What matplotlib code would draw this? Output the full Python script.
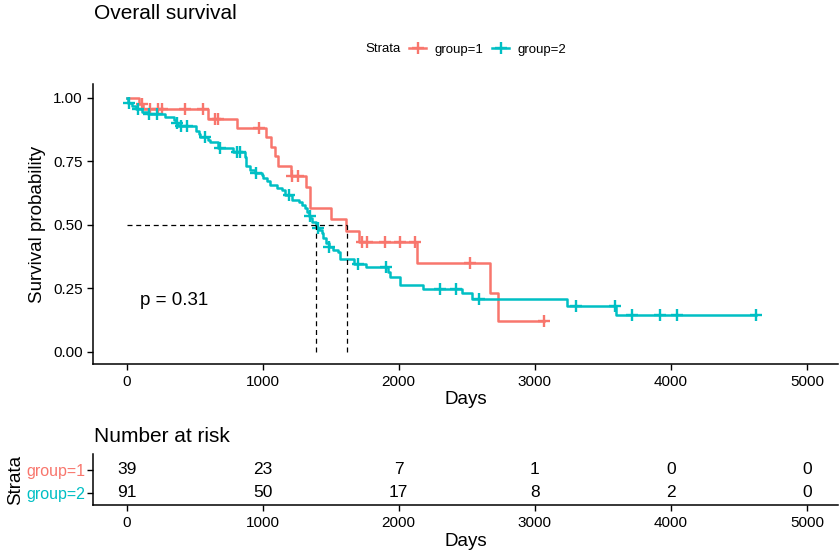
import numpy as np
import matplotlib
matplotlib.use("Agg")
import matplotlib.pyplot as plt
from matplotlib.lines import Line2D

plt.rcParams['font.family'] = ['Liberation Sans', 'DejaVu Sans']

# step times (days) and survival after each step
times1 = [0, 91, 121, 601, 810, 1023, 1062, 1093, 1115, 1209, 1319, 1349, 1501,
          1613, 1709, 2138, 2668, 2729]
surv1 = [1.0, 0.975, 0.954, 0.917, 0.882, 0.846, 0.807, 0.770, 0.733, 0.692,
         0.650, 0.565, 0.521, 0.476, 0.432, 0.348, 0.232, 0.120]
cens1 = [111, 172, 233, 258, 429, 564, 650, 674, 976, 1215, 1263, 1731, 1770,
         1902, 2010, 2121, 2525, 3069]

times2 = [0, 10, 40, 70, 110, 160, 282, 345, 360, 380, 510, 535, 540, 600, 615,
          675, 785, 870, 875, 880, 910, 945, 995, 1005, 1030, 1055, 1105, 1140,
          1165, 1215, 1265, 1290, 1315, 1325, 1340, 1350, 1360, 1391, 1415, 1435,
          1445, 1465, 1485, 1520, 1555, 1570, 1670, 1760, 1925, 1935, 2010, 2177,
          2464, 2537, 3236, 3600]
surv2 = [1.0, 0.978, 0.967, 0.956, 0.945, 0.934, 0.923, 0.912, 0.901, 0.890,
         0.868, 0.857, 0.846, 0.835, 0.824, 0.802, 0.787, 0.765, 0.743, 0.730,
         0.716, 0.705, 0.694, 0.683, 0.672, 0.656, 0.645, 0.635, 0.617, 0.598,
         0.588, 0.577, 0.565, 0.551, 0.535, 0.525, 0.512, 0.488, 0.479, 0.466,
         0.446, 0.427, 0.414, 0.400, 0.394, 0.364, 0.345, 0.332, 0.315, 0.295,
         0.263, 0.246, 0.230, 0.206, 0.180, 0.144]
cens2 = [20, 86, 165, 221, 368, 400, 441, 576, 690, 810, 834, 949, 1196, 1348,
         1410, 1490, 1704, 1907, 2304, 2422, 2593, 3302, 3591, 3718, 3922, 4049,
         4628]

medians = [1391, 1622]
risk_times = [0, 1000, 2000, 3000, 4000, 5000]
risk1 = [39, 23, 7, 1, 0, 0]
risk2 = [91, 50, 17, 8, 2, 0]
groups = ['group=1', 'group=2']
colors = ['#F8766D', '#00BFC4']

fig = plt.figure(figsize=[8.4, 5.55], dpi=100)
ax = fig.add_axes([0.111, 0.3436, 0.887, 0.505])

for times, surv, cens, col in [(times1, surv1, cens1, colors[0]),
                               (times2, surv2, cens2, colors[1])]:
    x = list(times) + [max(cens)]
    y = list(surv) + [surv[-1]]
    ax.step(x, y, where='post', color=col, lw=1.8)
    idx = np.searchsorted(times, cens, side='right') - 1
    ax.plot(cens, np.array(surv)[idx], '+', color=col, ms=9, mew=1.7)

# median lines
ax.plot([0, max(medians)], [0.5, 0.5], '--', color='black', lw=0.9, dashes=(4, 3))
for m in medians:
    ax.plot([m, m], [0, 0.5], '--', color='black', lw=0.9, dashes=(4, 3))

ax.text(100, 0.2, 'p = 0.31', fontsize=13.5, va='center')
ax.set_xlim(-245, 5231)
ax.set_ylim(-0.05, 1.054)
ax.set_xticks(risk_times)
ax.set_yticks([0, 0.25, 0.5, 0.75, 1.0])
ax.set_yticklabels(['0.00', '0.25', '0.50', '0.75', '1.00'])
ax.set_xlabel('Days', fontsize=13.5, labelpad=2)
ax.set_ylabel('Survival probability', fontsize=13.5, labelpad=5)
for s in ['top', 'right']:
    ax.spines[s].set_visible(False)
for s in ['left', 'bottom']:
    ax.spines[s].set_linewidth(1.1)
ax.tick_params(labelsize=11, length=4, width=1, colors='black')

fig.text(0.112, 0.976, 'Overall survival', fontsize=15, va='center')

# legend
fig.text(0.4345, 0.911, 'Strata', fontsize=9.5, va='center')
handles = [Line2D([], [], color=c, marker='+', lw=1.8, ms=9, mew=1.7) for c in colors]
fig.legend(handles, groups, loc='center left', bbox_to_anchor=(0.487, 0.911),
           ncol=2, frameon=False, fontsize=9.5, handlelength=1.3,
           handletextpad=0.6, columnspacing=0.7, borderaxespad=0, borderpad=0)

# risk table
rt = fig.add_axes([0.111, 0.0892, 0.887, 0.0928])
for vals, y in [(risk1, 2), (risk2, 1)]:
    for t, v in zip(risk_times, vals):
        rt.text(t, y, str(v), ha='center', va='center', fontsize=12.5)
rt.set_xlim(-245, 5231)
rt.set_ylim(0.44, 2.7)
rt.set_xticks(risk_times)
rt.set_yticks([2, 1])
rt.set_yticklabels(groups)
for lab, c in zip(rt.get_yticklabels(), colors):
    lab.set_color(c)
    lab.set_fontsize(11.5)
rt.set_xlabel('Days', fontsize=13.5, labelpad=2)
rt.set_ylabel('Strata', fontsize=13.5, labelpad=1)
for s in ['top', 'right']:
    rt.spines[s].set_visible(False)
for s in ['left', 'bottom']:
    rt.spines[s].set_linewidth(1.1)
rt.tick_params(axis='x', labelsize=11, length=4, width=1)
rt.tick_params(axis='y', length=4, width=1, pad=2)
fig.text(0.112, 0.2144, 'Number at risk', fontsize=15, va='center')

fig.savefig('out.png', dpi=100)
